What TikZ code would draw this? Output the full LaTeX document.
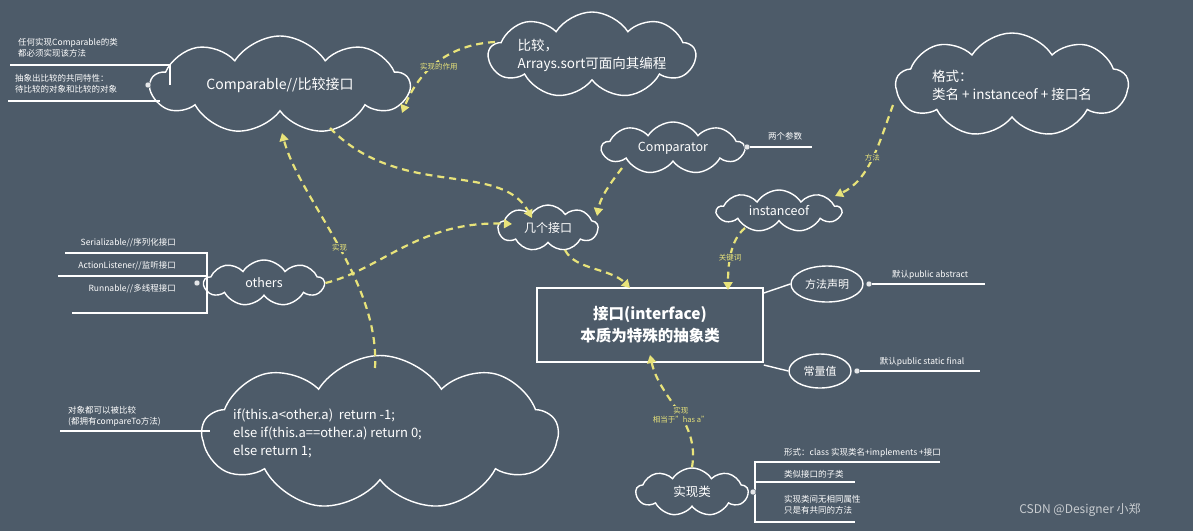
\documentclass[tikz,border=0pt]{standalone}
\usepackage{fontspec}
\setmainfont{Noto Sans CJK SC}
\usetikzlibrary{shapes.symbols,shapes.geometric,arrows.meta}
\definecolor{bg}{HTML}{4D5B69}
\definecolor{yl}{HTML}{E8E37A}
\definecolor{wm}{HTML}{C8CCD0}
\begin{document}
\begin{tikzpicture}[x=1pt,y=-1pt,
 cl/.style={cloud,cloud puffs=9,cloud puff arc=115,cloud ignores aspect,draw=white,line width=1.4pt,text=white,align=center,inner sep=0pt},
 br/.style={draw=white,line width=1.4pt},
 sm/.style={text=white,font=\fontsize{8.5}{11}\selectfont,inner sep=0pt},
 yl/.style={draw=yl,line width=2.2pt,dash pattern=on 7pt off 5pt,-{Triangle[width=9pt,length=8pt,fill=yl]}},
 ylab/.style={text=yl,font=\fontsize{7.5}{9.5}\selectfont,fill=bg,inner sep=1pt,align=center},
 dot/.style={circle,fill=white!85!bg,draw=bg,inner sep=0pt,minimum size=6pt},
 el/.style={ellipse,draw=white,line width=1.4pt,text=white,font=\fontsize{11}{13}\selectfont}]
\fill[bg] (0,0) rectangle (1193,531);
\useasboundingbox (0,0) rectangle (1193,531);
% clouds
\node[cl,minimum width=258pt,minimum height=98pt,font=\fontsize{14}{16}\selectfont] (cmp) at (280,85) {Comparable//比较接口};
\node[cl,minimum width=200pt,minimum height=86pt,font=\fontsize{13.5}{18}\selectfont,align=left] (bj) at (592,55) {比较，\\Arrays.sort可面向其编程};
\node[cl,minimum width=232pt,minimum height=104pt,font=\fontsize{13.5}{18}\selectfont,align=left] (gs) at (1012,85) {格式：\\类名 + instanceof + 接口名};
\node[cl,minimum width=142pt,minimum height=52pt,font=\fontsize{12.5}{14}\selectfont] (cpr) at (673,148) {Comparator};
\node[cl,minimum width=100pt,minimum height=46pt,font=\fontsize{12}{14}\selectfont] (jg) at (548,228) {几个接口};
\node[cl,minimum width=124pt,minimum height=42pt,font=\fontsize{12.5}{14}\selectfont] (ins) at (779,211) {instanceof};
\node[cl,minimum width=120pt,minimum height=46pt,font=\fontsize{12.5}{14}\selectfont] (oth) at (264,283) {others};
\node[cl,minimum width=355pt,minimum height=155pt] (ifc) at (380,433) {};
\node[text=white,font=\fontsize{13}{18}\selectfont,align=left,anchor=west,inner sep=0pt] (ift2) at (233,433) {if(this.a<other.a)\ \ return -1;\\else if(this.a==other.a) return 0;\\else return 1;};
\node[cl,minimum width=112pt,minimum height=48pt,font=\fontsize{12.5}{14}\selectfont] (sx) at (692,492) {实现类};
% main
\node[draw=white,line width=1.6pt,minimum width=226pt,minimum height=74pt,text=white,align=center,font=\bfseries\fontsize{15.5}{22}\selectfont] (main) at (650,325) {接口(interface)\\本质为特殊的抽象类};
\node[el,minimum width=72pt,minimum height=36pt,inner sep=0pt] (ff) at (827,284) {方法声明};
\node[el,minimum width=62pt,minimum height=34pt,inner sep=0pt] (cl) at (820,371) {常量值};
\draw[br] (main.east|-0,293) -- (ff.west);
\draw[br] (main.east|-0,365) -- (cl.west);
% Comparable branches
\draw[br] (10,65) -- (170,65) -- (170,85);
\draw[br] (8,101) -- (160,101);
\node[dot] (d1) at (148,85) {};
\node[sm,anchor=west,align=left] (t1) at (18,48) {任何实现Comparable的类\\都必须实现该方法};
\node[sm,anchor=west,align=left] (t2) at (15,84) {抽象出比较的共同特性：\\待比较的对象和比较的对象};
% others branches
\draw[br] (65,253) -- (207,253) -- (207,313) -- (72,313);
\draw[br] (58,276) -- (207,276);
\node[dot] (d2) at (197,283) {};
\node[sm,anchor=east] (o1) at (176,243) {Serializable//序列化接口};
\node[sm,anchor=east] (o2) at (176,266) {ActionListener//监听接口};
\node[sm,anchor=east] (o3) at (176,289) {Runnable//多线程接口};
% if branch
\draw[br] (60,431) -- (210,431);
\node[sm,anchor=west,align=left] (ift) at (68,416) {对象都可以被比较\\(都拥有compareTo方法)};
% Comparator branch
\node[dot] (d3) at (747,147) {};
\draw[br] (d3) -- (812,147);
\node[sm] (cp1) at (785,136) {两个参数};
% 方法声明 / 常量值 branches
\node[dot] (d4) at (869,284) {};
\draw[br] (d4) -- (985,284);
\node[sm] (f1) at (930,275) {默认public abstract};
\node[dot] (d5) at (857,371) {};
\draw[br] (d5) -- (980,371);
\node[sm] (f2) at (922,362) {默认public static final};
% 实现类 branches
\draw[br] (940,462) -- (755,462) -- (755,522) -- (855,522);
\draw[br] (755,482) -- (855,482);
\node[dot] (d6) at (753,492) {};
\node[sm,anchor=west] (s1) at (784,453) {形式：class 实现类名+implements +接口};
\node[sm,anchor=west] (s2) at (784,474) {类似接口的子类};
\node[sm,anchor=west,align=left] (s3) at (784,505) {实现类间无相同属性\\只是有共同的方法};
% yellow connectors
\draw[yl] (495,42) .. controls (440,45) and (415,80) .. (402,113) node[ylab,pos=0.5,xshift=6pt] {实现的作用};
\draw[yl] (893,105) .. controls (880,140) and (870,180) .. (835,196) node[ylab,pos=0.5] {方法};
\draw[yl] (330,128) .. controls (400,200) and (500,160) .. (532,218);
\draw[yl] (622,168) .. controls (605,190) and (600,200) .. (597,216);
\draw[yl] (oth.east) .. controls (380,270) and (420,220) .. (512,224);
\draw[yl] (565,250) .. controls (575,270) and (610,268) .. (630,288);
\draw[yl] (745,228) .. controls (730,240) and (728,265) .. (728,290) node[ylab,pos=0.55] {关键词};
\draw[yl] (375,368) .. controls (380,280) and (300,200) .. (282,133) node[ylab,pos=0.48] {实现};
\draw[yl] (sx.north) .. controls (700,420) and (660,400) .. (650,355) node[ylab,pos=0.45] {实现\\相当于"has a"};
% watermark
\node[text=wm,font=\fontsize{12}{14}\selectfont] (wmk) at (1080,510) {CSDN @Designer 小郑};
\end{tikzpicture}
\end{document}
